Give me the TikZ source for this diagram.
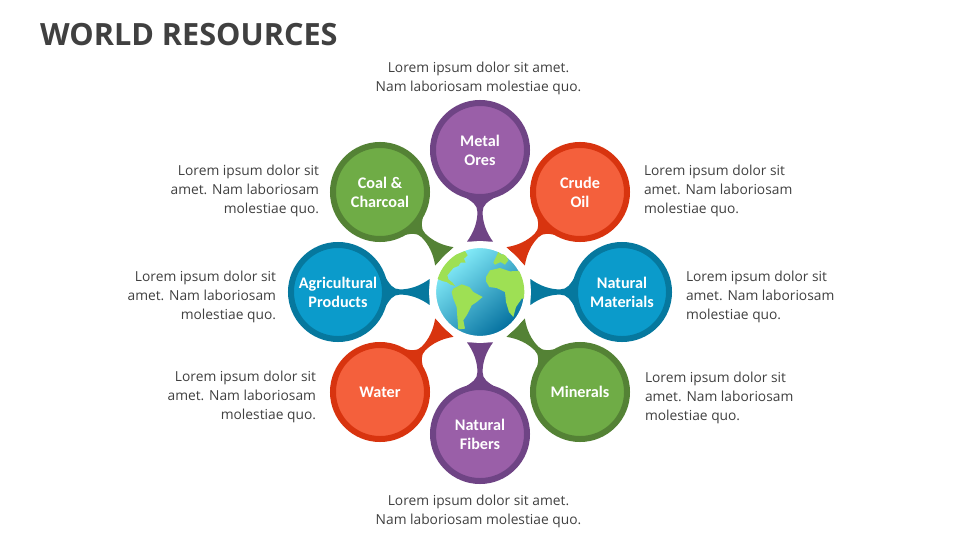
\documentclass[tikz,border=0pt]{standalone}
\usepackage{fontspec}
\setmainfont{Open Sans}
\newfontfamily\labelfont{Carlito}
\usetikzlibrary{calc,backgrounds,scopes}
\definecolor{inkgray}{HTML}{404040}
\definecolor{greenfill}{HTML}{6FAC46}
\definecolor{greenedge}{HTML}{548235}
\definecolor{redfill}{HTML}{F4603C}
\definecolor{rededge}{HTML}{D8340F}
\definecolor{purplefill}{HTML}{9A5FA8}
\definecolor{purpleedge}{HTML}{6F4485}
\definecolor{bluefill}{HTML}{0B9BCB}
\definecolor{blueedge}{HTML}{06789E}
\definecolor{landgreen}{HTML}{9EE054}
\definecolor{oceanlight}{HTML}{8CF4FF}
\definecolor{oceanmid}{HTML}{2FB8EC}
\definecolor{oceandark}{HTML}{006C9C}

\begin{document}
\begin{tikzpicture}[x=0.025cm,y=-0.025cm,
    every node/.style={inner sep=0pt, outer sep=0pt},
    resource/.style={circle, minimum size=2.35cm, line width=0.15cm, text=white, align=center,
        font=\labelfont\bfseries\fontsize{11.5}{13.5}\selectfont},
    blurb/.style={text=inkgray, font=\fontsize{9.8}{13.5}\selectfont},
    stemto/.style={to path={let \p1=($(\tikztotarget)-(\tikztostart)$), \n1={atan2(\y1,\x1)} in
        {[shift={(\tikztostart)},rotate=\n1]
        (50.4,-13) .. controls (60,-6) and (70,-2.6) .. (80,-2.6) .. controls (87,-2.6) and (90,-7) .. (96,-17)
        -- (96,17) .. controls (90,7) and (87,2.6) .. (80,2.6) .. controls (70,2.6) and (60,6) .. (50.4,13) -- cycle}}}]
    \useasboundingbox (0,0) rectangle (960,540);
    \node[anchor=west, text=inkgray, font=\bfseries\fontsize{21.8}{26}\selectfont] (title) at (40,35) {WORLD RESOURCES};

    \node[resource, draw=purpleedge, fill=purplefill] (metal) at (480,150) {Metal\\Ores};
    \node[resource, draw=rededge, fill=redfill] (crude) at (580,192) {Crude\\Oil};
    \node[resource, draw=blueedge, fill=bluefill] (materials) at (622,292) {Natural\\Materials};
    \node[resource, draw=greenedge, fill=greenfill] (minerals) at (580,392) {Minerals};
    \node[resource, draw=purpleedge, fill=purplefill] (fibers) at (480,434) {Natural\\Fibers};
    \node[resource, draw=rededge, fill=redfill] (water) at (380,392) {Water};
    \node[resource, draw=blueedge, fill=bluefill] (agri) at (338,292) {Agricultural\\Products};
    \node[resource, draw=greenedge, fill=greenfill] (coal) at (380,192) {Coal \&\\Charcoal};

    \node[circle, minimum size=2.37cm, line width=0.175cm, draw=white, top color=oceanlight, middle color=oceanmid, bottom color=oceandark, shading angle=40] (globe) at (480,292) {};
    \begin{scope}[shift={(430,242)},x=0.00833cm,y=-0.00833cm]
        \clip (150,150) circle [radius=133];
        \fill[landgreen] (105,27) -- (113,40) -- (102,50) -- (107,62) -- (92,62) -- (85,72) -- (70,78) -- (60,90) -- (52,100) -- (55,112) -- (68,122) -- (75,132) -- (62,128) -- (50,120) -- (40,118) -- (15,108) -- (28,80) -- (60,45) -- cycle;
        \fill[landgreen] (70,140) -- (95,127) -- (118,135) -- (130,150) -- (158,165) -- (140,180) -- (125,190) -- (118,205) -- (110,220) -- (100,235) -- (105,260) -- (85,262) -- (82,225) -- (80,195) -- (70,170) -- (65,150) -- cycle;
        \fill[landgreen] (190,62) -- (205,30) -- (215,38) -- (225,34) -- (235,55) -- (225,68) -- (212,60) -- (195,68) -- cycle;
        \fill[landgreen] (168,105) -- (180,85) -- (210,78) -- (240,88) -- (300,85) -- (300,170) -- (275,170) -- (258,195) -- (250,225) -- (237,210) -- (228,180) -- (225,150) -- (200,138) -- (178,135) -- (168,118) -- cycle;
    \end{scope}

    \begin{pgfonlayer}{background}
        \path[fill=purpleedge, stemto] (globe) to (metal);
        \path[fill=rededge, stemto] (globe) to (crude);
        \path[fill=blueedge, stemto] (globe) to (materials);
        \path[fill=greenedge, stemto] (globe) to (minerals);
        \path[fill=purpleedge, stemto] (globe) to (fibers);
        \path[fill=rededge, stemto] (globe) to (water);
        \path[fill=blueedge, stemto] (globe) to (agri);
        \path[fill=greenedge, stemto] (globe) to (coal);
    \end{pgfonlayer}

    \node[blurb, align=center] (metaltext) at (478.5,78.5) {Lorem ipsum dolor sit amet.\\Nam laboriosam molestiae quo.};
    \node[blurb, align=left, anchor=west] (crudetext) at (644,191) {Lorem ipsum dolor sit\\amet. Nam laboriosam\\molestiae quo.};
    \node[blurb, align=left, anchor=west] (materialstext) at (686,297) {Lorem ipsum dolor sit\\amet. Nam laboriosam\\molestiae quo.};
    \node[blurb, align=left, anchor=west] (mineralstext) at (645,398) {Lorem ipsum dolor sit\\amet. Nam laboriosam\\molestiae quo.};
    \node[blurb, align=center] (fiberstext) at (478.5,511.5) {Lorem ipsum dolor sit amet.\\Nam laboriosam molestiae quo.};
    \node[blurb, align=right, anchor=east] (watertext) at (316,397) {Lorem ipsum dolor sit\\amet. Nam laboriosam\\molestiae quo.};
    \node[blurb, align=right, anchor=east] (agritext) at (276,297) {Lorem ipsum dolor sit\\amet. Nam laboriosam\\molestiae quo.};
    \node[blurb, align=right, anchor=east] (coaltext) at (319,191) {Lorem ipsum dolor sit\\amet. Nam laboriosam\\molestiae quo.};
\end{tikzpicture}
\end{document}
